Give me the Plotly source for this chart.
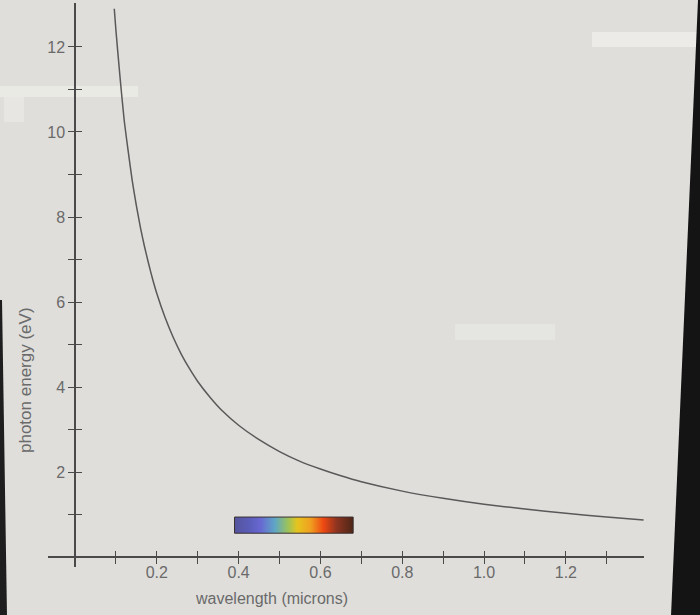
import plotly.graph_objects as go

# Values
wavelength = [0.096, 0.10, 0.11, 0.12, 0.13, 0.14, 0.15, 0.16, 0.17, 0.18, 0.19, 0.20,
              0.22, 0.24, 0.26, 0.28, 0.30, 0.33, 0.36, 0.40, 0.45, 0.50, 0.55, 0.60,
              0.65, 0.70, 0.80, 0.90, 1.00, 1.10, 1.20, 1.30, 1.39]
energy = [12.9, 12.4, 11.3, 10.3, 9.55, 8.85, 8.27, 7.75, 7.3, 6.9, 6.53, 6.2,
          5.64, 5.17, 4.77, 4.43, 4.13, 3.76, 3.44, 3.1, 2.76, 2.48, 2.25, 2.07,
          1.91, 1.77, 1.55, 1.38, 1.24, 1.13, 1.03, 0.94, 0.87]

x_tickvals = [0.1, 0.2, 0.3, 0.4, 0.5, 0.6, 0.7, 0.8, 0.9, 1.0, 1.1, 1.2, 1.3]
x_ticktext = ["", "0.2", "", "0.4", "", "0.6", "", "0.8", "", "1.0", "", "1.2", ""]
y_tickvals = [1, 2, 3, 4, 5, 6, 7, 8, 9, 10, 11, 12]
y_ticktext = ["", "2", "", "4", "", "6", "", "8", "", "10", "", "12"]

# visible spectrum band: wavelength span (microns), energy span, colours along it
spectrum_x = [0.39, 0.68]
spectrum_y = [0.56, 0.94]
spectrum_stops = [0.0, 0.12, 0.22, 0.34, 0.45, 0.53, 0.64, 0.75, 0.86, 1.0]
spectrum_colors = ["#55559c", "#5a5cb8", "#6868d2", "#5ea6c6", "#9cc25a", "#e6c41e",
                   "#f0a020", "#ee4812", "#8e3420", "#4c2616"]

X_RANGE = [-0.066, 1.391]
Y_RANGE = [-0.235, 13.035]

axis_color = "#4a4a4a"
text_color = "#6a6a6a"
bg = "#dfdedb"
font_family = "Liberation Sans, Arial, sans-serif"

W, H = 700, 615
ML, MR, MT, MB = 48, 56, 3, 48
PW, PH = W - ML - MR, H - MT - MB


def px(x):
    return (x - ML) / PW


def py(y):
    return 1 - (y - MT) / PH


fig = go.Figure()

# spectrum bar (gradient filled rectangle)
fig.add_trace(go.Scatter(
    x=[spectrum_x[0], spectrum_x[1], spectrum_x[1], spectrum_x[0], spectrum_x[0]],
    y=[spectrum_y[0], spectrum_y[0], spectrum_y[1], spectrum_y[1], spectrum_y[0]],
    mode="lines", fill="toself",
    fillgradient=dict(type="horizontal",
                      colorscale=[[s, c] for s, c in zip(spectrum_stops, spectrum_colors)]),
    line=dict(color="#3a3030", width=1), hoverinfo="skip"))

fig.add_trace(go.Scatter(x=wavelength, y=energy, mode="lines",
                         line=dict(color="#5a5858", width=1.5, shape="spline", smoothing=0.6),
                         hoverinfo="skip"))
fig.add_trace(go.Scatter(x=[], y=[], xaxis="x2", yaxis="y2", showlegend=False))

xpos = (0 - Y_RANGE[0]) / (Y_RANGE[1] - Y_RANGE[0])
ypos = (0 - X_RANGE[0]) / (X_RANGE[1] - X_RANGE[0])

common = dict(showgrid=False, zeroline=False, linecolor=axis_color, linewidth=1.5,
              tickcolor=axis_color, tickwidth=1.2, ticklen=6, automargin=False,
              tickfont=dict(family=font_family, size=16, color=text_color))

fig.update_layout(
    width=W, height=H,
    margin=dict(l=ML, r=MR, t=MT, b=MB, autoexpand=False),
    paper_bgcolor=bg, plot_bgcolor=bg,
    showlegend=False,
    xaxis=dict(range=X_RANGE, anchor="free", position=xpos, showline=True,
               ticks="outside", tickmode="array", tickvals=x_tickvals, ticktext=x_ticktext,
               ticklabelstandoff=-5, **common),
    yaxis=dict(range=Y_RANGE, anchor="free", position=ypos, showline=True,
               ticks="outside", tickmode="array", tickvals=y_tickvals, ticktext=y_ticktext,
               **common),
    xaxis2=dict(range=X_RANGE, overlaying="x", anchor="free", position=xpos, showline=False,
                ticks="inside", tickmode="array", tickvals=x_tickvals, showticklabels=False,
                **common),
    yaxis2=dict(range=Y_RANGE, overlaying="y", anchor="free", position=ypos, showline=False,
                ticks="inside", tickmode="array", tickvals=y_tickvals, showticklabels=False,
                **common),
)

fig.add_annotation(text="wavelength (microns)", xref="paper", yref="paper",
                   x=px(271), y=py(598), xanchor="center", yanchor="middle",
                   showarrow=False, font=dict(family=font_family, size=16, color=text_color))
fig.add_annotation(text="photon energy (eV)", xref="paper", yref="paper",
                   x=px(25), y=py(380), xanchor="center", yanchor="middle",
                   textangle=-90, showarrow=False,
                   font=dict(family=font_family, size=17, color=text_color))

# soft glare reflections from the photo
for (x0, y0, x1, y1, op) in [(592, 32, 700, 47, 0.55), (0, 86, 138, 97, 0.5),
                             (4, 97, 24, 122, 0.35), (455, 324, 555, 340, 0.3)]:
    fig.add_shape(type="rect", xref="paper", yref="paper",
                  x0=px(x0), x1=px(x1), y0=py(y1), y1=py(y0),
                  fillcolor="#f6f6f0", opacity=op, line=dict(width=0), layer="below")

# dark screen bezel at the right and lower-left edge of the photo
right_edge = "M {},{} L {},{} L {},{} L {},{} Z".format(
    px(698), py(0), px(701), py(0), px(701), py(616), px(671), py(616))
fig.add_shape(type="path", xref="paper", yref="paper", path=right_edge,
              fillcolor="#141414", line=dict(width=0), layer="above")
left_edge = "M {},{} L {},{} L {},{} L {},{} Z".format(
    px(-1), py(300), px(2), py(300), px(7), py(616), px(-1), py(616))
fig.add_shape(type="path", xref="paper", yref="paper", path=left_edge,
              fillcolor="#1e1e1e", line=dict(width=0), layer="above")

fig.write_html("out.html", config={"displayModeBar": False},
               post_script="document.body.style.margin='0';"
                           "document.body.style.background='" + bg + "';")
